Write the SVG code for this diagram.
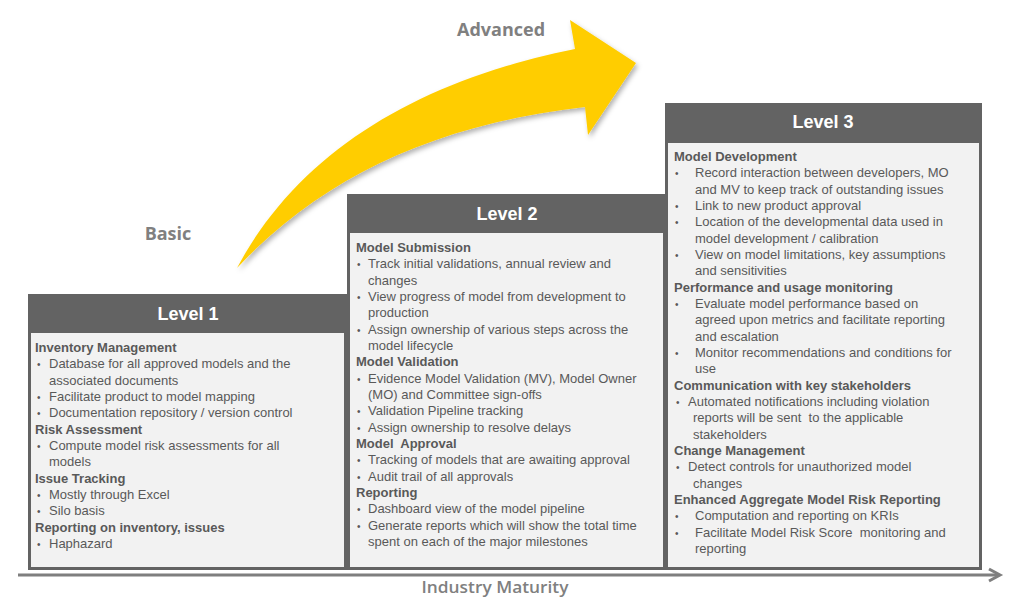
<svg xmlns="http://www.w3.org/2000/svg" width="1030" height="601" viewBox="0 0 1030 601">
<style>
.hdr{fill:#636363}
.body{fill:#f2f2f2}
.ht{font-family:"Liberation Sans",Arial,sans-serif;font-weight:bold;font-size:18px;fill:#ffffff;text-anchor:middle}
.t{font-family:"Liberation Sans",Arial,sans-serif;font-size:13px;fill:#595959}
.b{font-weight:bold}
.bu{font-size:10px}
.lbl{font-family:"Open Sans",sans-serif;font-weight:bold;font-size:18px;fill:#808080}
</style>
<defs>
<filter id="sh" x="-10%" y="-10%" width="130%" height="130%">
<feDropShadow dx="2" dy="3" stdDeviation="2.5" flood-color="#000" flood-opacity="0.3"/>
</filter>
</defs>
<rect width="1030" height="601" fill="#ffffff"/>
<g id="growth-arrow">
<path d="M237,268 C300,150 420,80 575,49 L570,20 L636,63 L588,135 L585,107 C430,125 320,180 237,268 Z" fill="#ffcd00" filter="url(#sh)"/>
</g>
<text class="lbl" x="501" y="36" text-anchor="middle">Advanced</text>
<text class="lbl" x="168" y="240" text-anchor="middle">Basic</text>
<g id="level1">
<rect class="hdr" x="28" y="294" width="319" height="276"/>
<rect class="body" x="31" y="333" width="313" height="234"/>
<text class="ht" x="188" y="320">Level 1</text>
<text class="t">
<tspan class="b" x="35" y="352">Inventory Management</tspan>
<tspan class="bu" x="37" y="368.3">•</tspan><tspan x="49" y="368.3">Database for all approved models and the</tspan>
<tspan x="49" y="384.7">associated documents</tspan>
<tspan class="bu" x="37" y="401">•</tspan><tspan x="49" y="401">Facilitate product to model mapping</tspan>
<tspan class="bu" x="37" y="417.3">•</tspan><tspan x="49" y="417.3">Documentation repository / version control</tspan>
<tspan class="b" x="35" y="433.7">Risk Assessment</tspan>
<tspan class="bu" x="37" y="450">•</tspan><tspan x="49" y="450">Compute model risk assessments for all</tspan>
<tspan x="49" y="466.3">models</tspan>
<tspan class="b" x="35" y="482.6">Issue Tracking</tspan>
<tspan class="bu" x="37" y="499">•</tspan><tspan x="49" y="499">Mostly through Excel</tspan>
<tspan class="bu" x="37" y="515.3">•</tspan><tspan x="49" y="515.3">Silo basis</tspan>
<tspan class="b" x="35" y="531.6">Reporting on inventory, issues</tspan>
<tspan class="bu" x="37" y="548">•</tspan><tspan x="49" y="548">Haphazard</tspan>
</text>
</g>
<g id="level2">
<rect class="hdr" x="347" y="194" width="319" height="376"/>
<rect class="body" x="350" y="233" width="313" height="334"/>
<text class="ht" x="507" y="220">Level 2</text>
<text class="t">
<tspan class="b" x="356" y="252">Model Submission</tspan>
<tspan class="bu" x="357" y="268.3">•</tspan><tspan x="368" y="268.3">Track initial validations, annual review and</tspan>
<tspan x="368" y="284.7">changes</tspan>
<tspan class="bu" x="357" y="301">•</tspan><tspan x="368" y="301">View progress of model from development to</tspan>
<tspan x="368" y="317.3">production</tspan>
<tspan class="bu" x="357" y="333.7">•</tspan><tspan x="368" y="333.7">Assign ownership of various steps across the</tspan>
<tspan x="368" y="350">model lifecycle</tspan>
<tspan class="b" x="356" y="366.3">Model Validation</tspan>
<tspan class="bu" x="357" y="382.6">•</tspan><tspan x="368" y="382.6">Evidence Model Validation (MV), Model Owner</tspan>
<tspan x="368" y="399">(MO) and Committee sign-offs</tspan>
<tspan class="bu" x="357" y="415.3">•</tspan><tspan x="368" y="415.3">Validation Pipeline tracking</tspan>
<tspan class="bu" x="357" y="431.6">•</tspan><tspan x="368" y="431.6">Assign ownership to resolve delays</tspan>
<tspan class="b" x="356" y="448" xml:space="preserve">Model  Approval</tspan>
<tspan class="bu" x="357" y="464.3">•</tspan><tspan x="368" y="464.3">Tracking of models that are awaiting approval</tspan>
<tspan class="bu" x="357" y="480.6">•</tspan><tspan x="368" y="480.6">Audit trail of all approvals</tspan>
<tspan class="b" x="356" y="497">Reporting</tspan>
<tspan class="bu" x="357" y="513.3">•</tspan><tspan x="368" y="513.3">Dashboard view of the model pipeline</tspan>
<tspan class="bu" x="357" y="529.6">•</tspan><tspan x="368" y="529.6">Generate reports which will show the total time</tspan>
<tspan x="368" y="546">spent on each of the major milestones</tspan>
</text>
</g>
<g id="level3">
<rect class="hdr" x="665" y="103" width="317" height="467"/>
<rect class="body" x="668" y="143" width="311" height="424"/>
<text class="ht" x="823" y="128">Level 3</text>
<text class="t">
<tspan class="b" x="674" y="161">Model Development</tspan>
<tspan class="bu" x="675" y="177.3">•</tspan><tspan x="695" y="177.3">Record interaction between developers, MO</tspan>
<tspan x="695" y="193.7">and MV to keep track of outstanding issues</tspan>
<tspan class="bu" x="675" y="210">•</tspan><tspan x="695" y="210">Link to new product approval</tspan>
<tspan class="bu" x="675" y="226.3">•</tspan><tspan x="695" y="226.3">Location of the developmental data used in</tspan>
<tspan x="695" y="242.7">model development / calibration</tspan>
<tspan class="bu" x="675" y="259">•</tspan><tspan x="695" y="259">View on model limitations, key assumptions</tspan>
<tspan x="695" y="275.3">and sensitivities</tspan>
<tspan class="b" x="674" y="291.6">Performance and usage monitoring</tspan>
<tspan class="bu" x="675" y="308">•</tspan><tspan x="695" y="308">Evaluate model performance based on</tspan>
<tspan x="695" y="324.3">agreed upon metrics and facilitate reporting</tspan>
<tspan x="695" y="340.6">and escalation</tspan>
<tspan class="bu" x="675" y="357">•</tspan><tspan x="695" y="357">Monitor recommendations and conditions for</tspan>
<tspan x="695" y="373.3">use</tspan>
<tspan class="b" x="674" y="389.6">Communication with key stakeholders</tspan>
<tspan class="bu" x="676" y="406">•</tspan><tspan x="688" y="406">Automated notifications including violation</tspan>
<tspan x="693" y="422.3" xml:space="preserve">reports will be sent  to the applicable</tspan>
<tspan x="693" y="438.6">stakeholders</tspan>
<tspan class="b" x="674" y="455">Change Management</tspan>
<tspan class="bu" x="676" y="471.3">•</tspan><tspan x="688" y="471.3">Detect controls for unauthorized model</tspan>
<tspan x="693" y="487.6">changes</tspan>
<tspan class="b" x="674" y="504">Enhanced Aggregate Model Risk Reporting</tspan>
<tspan class="bu" x="675" y="520.3">•</tspan><tspan x="695" y="520.3">Computation and reporting on KRIs</tspan>
<tspan class="bu" x="675" y="536.6">•</tspan><tspan x="695" y="536.6" xml:space="preserve">Facilitate Model Risk Score  monitoring and</tspan>
<tspan x="695" y="553">reporting</tspan>
</text>
</g>
<g id="connectors">
<line x1="18" y1="575" x2="999" y2="575" stroke="#7f7f7f" stroke-width="3"/>
<polyline points="989,569 1000,575 989,581" fill="none" stroke="#7f7f7f" stroke-width="3"/>
</g>
<text class="lbl" x="495" y="593" text-anchor="middle" style="font-size:17px;font-weight:600" textLength="147" lengthAdjust="spacingAndGlyphs">Industry Maturity</text>
</svg>
